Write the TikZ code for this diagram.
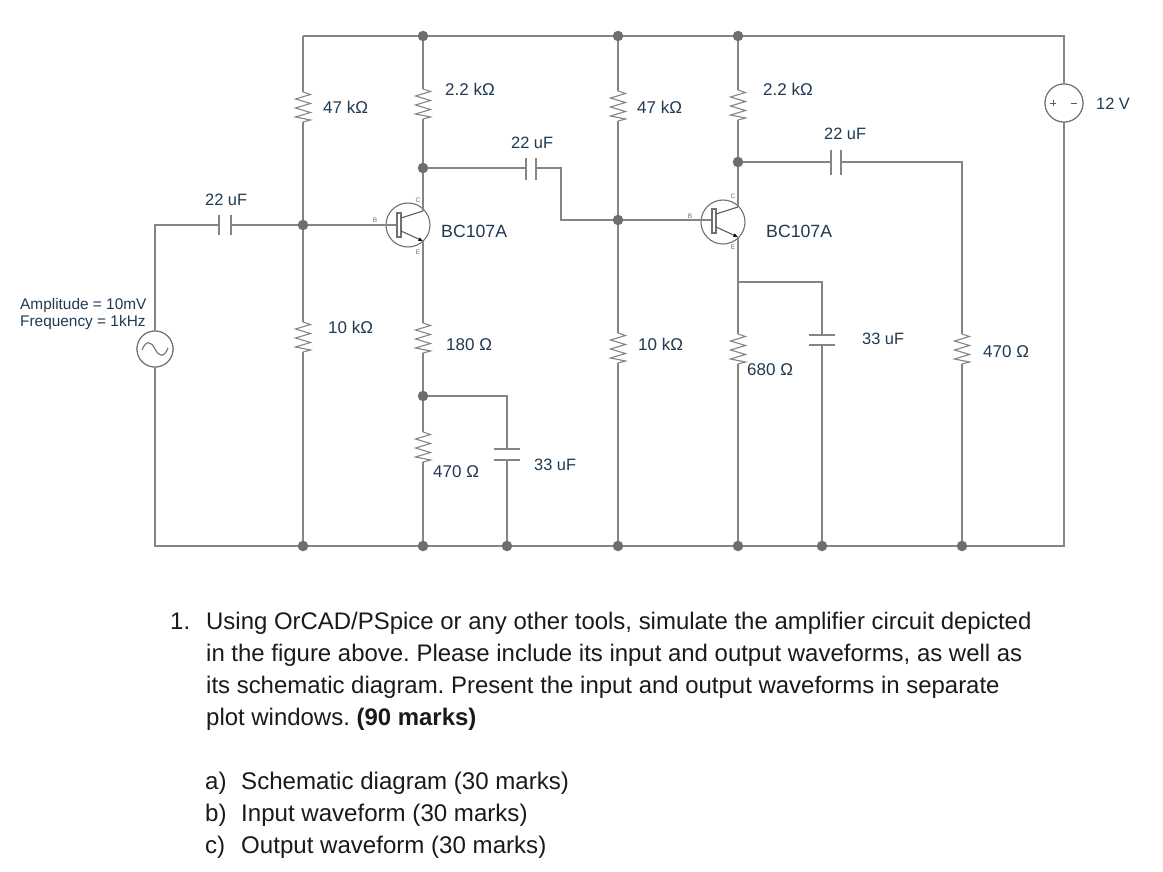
\documentclass[tikz,border=0pt]{standalone}
\usepackage{fontspec}
\setmainfont{Liberation Sans}
\usetikzlibrary{arrows.meta}
\definecolor{wirec}{HTML}{858585}
\definecolor{dotc}{HTML}{6E6E6E}
\definecolor{labc}{HTML}{1F3A52}
\definecolor{bodyc}{HTML}{1A1A1A}
\tikzset{
 wire/.style={draw=wirec,line width=1.6pt,line join=miter},
 thin wire/.style={draw=wirec!85!black,line width=1.1pt},
 junction/.style={circle,fill=dotc,inner sep=0pt,minimum size=10.5pt},
 lab/.style={inner sep=0pt,text=labc,font=\fontsize{17}{17}\selectfont,anchor=base west},
 clab/.style={lab,font=\fontsize{16.4}{17}\selectfont},
 qlab/.style={lab,font=\fontsize{17.7}{17}\selectfont},
 tiny lab/.style={inner sep=0pt,text=wirec!80!black,font=\fontsize{6.5}{6.5}\selectfont},
 small lab/.style={inner sep=0pt,text=labc,font=\fontsize{15.4}{17}\selectfont,align=left,anchor=west},
 body/.style={inner sep=0pt,text=bodyc,font=\fontsize{23.95}{24}\selectfont,anchor=base west},
 listy/.style={inner sep=0pt,text=bodyc,font=\fontsize{24.08}{24}\selectfont,anchor=base west},
 srccirc/.style={circle,draw=wirec!85!black,line width=1.1pt,fill=white,inner sep=0pt,minimum size=#1},
 bjtcirc/.style={circle,draw=wirec!85!black,line width=1.1pt,inner sep=0pt,minimum size=44pt},
 res/.pic={\draw[wire,line width=1.1pt,line join=miter] (0,0)--(7.5,2.5)--(-7.5,7)--(7.5,11.5)--(-7.5,16)--(7.5,20.5)--(-7.5,25)--(7.5,28)--(0,30);},
 bjt/.pic={
  \draw[thin wire,fill=white] (-2,-12) rectangle (2,12);
  \draw[thin wire,draw=wirec!70!black] (2,-7)--(24,-14);
  \draw[thin wire,draw=wirec!70!black,-{Latex[length=4.5pt,width=4pt,black]}] (2,6)--(24,16);
 }
}
\begin{document}
\frenchspacing
\begin{tikzpicture}[x=1pt,y=-1pt]
\useasboundingbox[fill=white] (0,0) rectangle (1163,872);
% top and bottom rails
\coordinate (tl) at (303,36); \coordinate (tr) at (1064,36);
\coordinate (bl) at (155,546); \coordinate (br) at (1064,546);
\coordinate (il) at (155,225);
% junctions
\foreach \n/\x/\y in {t2/423/36,t3/618/36,t4/738/36,
  b1/303/546,b2/423/546,b3/507/546,b4/618/546,b5/738/546,b6/822/546,b7/962/546,
  m1/303/225,m2/423/168,m3/618/220,m4/738/162,m5/423/396}
  {\coordinate (\n) at (\x,\y);}
% resistor ends
\foreach \n/\x/\y in {r1/303/92,r2/303/322,r3/423/89,r4/423/323,r5/423/432,r6/618/91,r7/618/333,r8/738/90,r9/738/334,r10/962/334}
  {\coordinate (\n a) at (\x,\y); \coordinate (\n b) at (\x,\y+30);}
% sources and transistors
\node[srccirc=36pt] (ac) at (155,349) {};
\node[srccirc=38pt] (dc) at (1064,103) {};
\node[bjtcirc] (q1) at (408,225) {};
\node[bjtcirc] (q2) at (723,222) {};
\coordinate (q1c) at (423,211); \coordinate (q1e) at (423,241);
\coordinate (q2c) at (738,207); \coordinate (q2e) at (738,237);
\coordinate (q1b) at (399,225); \coordinate (q2b) at (714,220);
% capacitor plates
\coordinate (c1a) at (219,225); \coordinate (c1b) at (231,225);
\coordinate (c2a) at (526,168); \coordinate (c2b) at (536,168);
\coordinate (c3a) at (831,162); \coordinate (c3b) at (841,162);
\coordinate (c4a) at (507,449); \coordinate (c4b) at (507,460);
\coordinate (c5a) at (822,335); \coordinate (c5b) at (822,345);
\coordinate (w2a) at (561,168); \coordinate (w2b) at (561,220);
\coordinate (w3a) at (962,162);
\coordinate (w4a) at (507,396);
\coordinate (w5) at (738,282); \coordinate (w5a) at (822,282);
% wires
\draw[wire] (b1|-tl) -- (tr) -- (dc);
\draw[wire] (dc) -- (br) -- (bl) -- (ac) -- (il) -- (c1a);
\draw[wire] (c1b) -- (m1) -- (q1b);
\draw[wire] (tl) -- (r1a); \draw[wire] (r1b) -- (m1) -- (r2a); \draw[wire] (r2b) -- (b1);
\draw[wire] (t2) -- (r3a); \draw[wire] (r3b) -- (m2) -- (q1c);
\draw[wire] (q1e) -- (r4a); \draw[wire] (r4b) -- (m5) -- (r5a); \draw[wire] (r5b) -- (b2);
\draw[wire] (m5) -- (w4a) -- (c4a); \draw[wire] (c4b) -- (b3);
\draw[wire] (m2) -- (c2a); \draw[wire] (c2b) -- (w2a) -- (w2b) -- (m3) -- (q2b);
\draw[wire] (t3) -- (r6a); \draw[wire] (r6b) -- (m3) -- (r7a); \draw[wire] (r7b) -- (b4);
\draw[wire] (t4) -- (r8a); \draw[wire] (r8b) -- (m4) -- (q2c);
\draw[wire] (q2e) -- (r9a); \draw[wire] (r9b) -- (b5);
\draw[wire] (w5) -- (w5a) -- (c5a); \draw[wire] (c5b) -- (b6);
\draw[wire] (m4) -- (c3a); \draw[wire] (c3b) -- (w3a) -- (r10a); \draw[wire] (r10b) -- (b7);
% resistors
\foreach \n in {r1,r2,r3,r4,r5,r6,r7,r8,r9,r10} {\pic at (\n a) {res};}
% capacitor plates
\draw[wire,line width=1.1pt] (219,215)--(219,235) (231,215)--(231,235);
\draw[wire,line width=1.1pt] (526,158)--(526,180) (536,158)--(536,180);
\draw[wire,line width=1.1pt] (831,150)--(831,175) (841,150)--(841,175);
\draw[wire,line width=1.1pt] (494,449)--(520,449) (494,460)--(520,460);
\draw[wire,line width=1.1pt] (809,335)--(835,335) (809,345)--(835,345);
% redraw sources on top of rails
\node[srccirc=36pt] (ac2) at (ac) {};
\node[srccirc=38pt] (dc2) at (dc) {};
\draw[thin wire] (142,350) .. controls (146,340) and (151,341) .. (155,349) .. controls (159,357) and (164,358) .. (168,348);
\draw[line width=0.9pt,draw=wirec!70!black] (1050,103.5)--(1056,103.5) (1053,100.5)--(1053,106.5) (1071,103.5)--(1077,103.5);
% transistors
\pic at (399,225) {bjt};
\pic at (714,221) {bjt};
\node[tiny lab] (q1blab) at (375,220) {B};
\node[tiny lab] (q1clab) at (418,200) {C};
\node[tiny lab] (q1elab) at (418,252) {E};
\node[tiny lab] (q2blab) at (690,216) {B};
\node[tiny lab] (q2clab) at (733,196) {C};
\node[tiny lab] (q2elab) at (733,247) {E};
% junction dots
\foreach \n in {t2,t3,t4,b1,b2,b3,b4,b5,b6,b7,m1,m2,m3,m4,m5} {\node[junction] at (\n) {};}
% labels
\node[lab] (l1) at (323,114) {47 kΩ};
\node[lab] (l2) at (328,333) {10 kΩ};
\node[lab] (l3) at (445,96) {2.2 kΩ};
\node[lab] (l4) at (446,350) {180 Ω};
\node[lab] (l5) at (433,477) {470 Ω};
\node[lab] (l6) at (637,114) {47 kΩ};
\node[lab] (l7) at (638,350) {10 kΩ};
\node[lab] (l8) at (763,96) {2.2 kΩ};
\node[lab] (l9) at (747,375) {680 Ω};
\node[lab] (l10) at (983,357) {470 Ω};
\node[clab] (l11) at (205,206) {22 uF};
\node[clab] (l12) at (511,149) {22 uF};
\node[clab] (l13) at (824,140) {22 uF};
\node[clab] (l14) at (534,470) {33 uF};
\node[clab] (l15) at (862,344) {33 uF};
\node[qlab] (l16) at (441,237) {BC107A};
\node[qlab] (l17) at (766,237) {BC107A};
\node[clab] (l18) at (1096,110) {12 V};
\node[small lab] (l19) at (20,314) {Amplitude = 10mV\\Frequency = 1kHz};
% question text
\node[body] (n1) at (170,629) {1.};
\node[body] (p1) at (206,629) {Using OrCAD/PSpice or any other tools, simulate the amplifier circuit depicted};
\node[body] (p2) at (206,661) {in the figure above. Please include its input and output waveforms, as well as};
\node[body] (p3) at (206,693) {its schematic diagram. Present the input and output waveforms in separate};
\node[body] (p4) at (206,725) {plot windows. \textbf{(90 marks)}};
\node[listy] (a0) at (205,789) {a)};
\node[listy] (a1) at (241,789) {Schematic diagram (30 marks)};
\node[listy] (b0) at (205,821) {b)};
\node[listy] (b1t) at (241,821) {Input waveform (30 marks)};
\node[listy] (c0) at (205,853) {c)};
\node[listy] (c1t) at (241,853) {Output waveform (30 marks)};
\end{tikzpicture}
\end{document}
